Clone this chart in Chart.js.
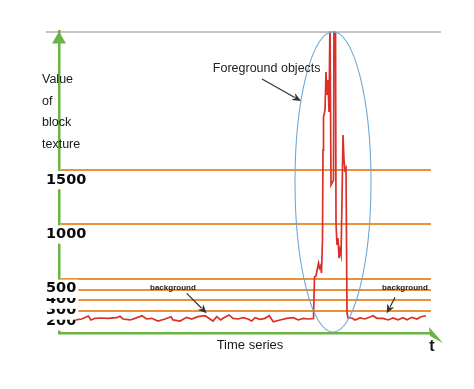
<!DOCTYPE html>
<html>
<head>
<meta charset="utf-8">
<script src="https://cdn.jsdelivr.net/npm/chart.js@4.4.1/dist/chart.umd.min.js"></script>
<style>
  html, body { margin: 0; padding: 0; background: #ffffff; }
  #wrap { width: 474px; height: 389px; position: relative; }
</style>
</head>
<body>
<div id="wrap"><canvas id="c" width="474" height="389"></canvas></div>
<script>
// ---- data ----
const timeSteps = [
  16.7, 22.7, 29.3, 32, 36, 42, 49, 57.7, 61, 64, 71, 76, 83, 87.7, 92.7, 99, 106, 112, 114, 121,
  127.7, 132.7, 139, 146, 151, 154, 157.7, 161.7, 164, 170, 174, 179, 184, 189, 192.7, 196, 201, 206,
  210.3, 214.3, 221, 227.7, 234.3, 239.3, 244.3, 249.3, 254.5,
  255.5, 257, 258.5, 259.5, 260.5, 261.5, 262.5, 263.5, 264, 264.5, 266, 267, 268, 269, 270, 271, 272,
  274.5, 275, 276.5, 277, 278, 279, 280, 281, 282, 283, 284, 285, 286, 287, 288, 289,
  293, 296, 301, 306, 311, 314, 318, 324, 329, 334, 339, 344, 348, 353, 358, 362, 367
];
const textureValues = [
  120, 129, 156, 120, 135, 138, 135, 141, 154, 129, 120, 135, 159, 129, 135, 110, 129, 150, 120, 110,
  144, 129, 150, 159, 129, 110, 150, 120, 135, 166, 135, 129, 141, 129, 110, 141, 126, 135,
  159, 104, 120, 135, 141, 120, 135, 129, 133,
  515, 525, 598, 644, 598, 617, 552, 856, 1684, 1988, 2052, 2402, 2190, 2328, 2034, 2900, 1362,
  1408, 2900, 2900, 1012, 810, 874, 690, 764, 718, 1224, 1822, 1592, 1500, 1518, 184, 138,
  138, 120, 138, 129, 147, 159, 135, 135, 120, 138, 122, 141, 122, 144, 129, 150, 159
];
const yTickValues = [200, 300, 400, 500, 1000, 1500];
const yTitleLines = ['Value', 'of', 'block', 'texture'];
const xTitle = 'Time series';
const xEndLabel = 't';
const timeMax = 372;
const valueMax = 2775;

// annotations (in data units)
const foregroundNote = { text: 'Foreground objects', t: 207.7, v: 2436, from: [203, 2337], to: [242, 2135] };
const backgroundNotes = [
  { text: 'background', t: 113.9, v: 417, from: [127.7, 365], to: [147.7, 181] },
  { text: 'background', t: 346, v: 420, from: [336, 328], to: [327.7, 181] }
];
const ellipseRegion = { t: 274, v: 1391, rt: 38, rv: 1382 };

const GREEN = '#6ab344';
const ORANGE = '#ea913c';
const RED = '#d9302a';

const points = timeSteps.map((t, i) => ({ x: t, y: textureValues[i] }));

function drawArrow(ctx, x1, y1, x2, y2) {
  const ang = Math.atan2(y2 - y1, x2 - x1);
  const hl = 9, hw = 4;
  ctx.save();
  ctx.strokeStyle = '#333';
  ctx.fillStyle = '#333';
  ctx.lineWidth = 1.2;
  ctx.beginPath();
  ctx.moveTo(x1, y1);
  ctx.lineTo(x2 - Math.cos(ang) * hl * 0.8, y2 - Math.sin(ang) * hl * 0.8);
  ctx.stroke();
  ctx.beginPath();
  ctx.moveTo(x2, y2);
  ctx.lineTo(x2 - Math.cos(ang) * hl + Math.sin(ang) * hw, y2 - Math.sin(ang) * hl - Math.cos(ang) * hw);
  ctx.lineTo(x2 - Math.cos(ang) * hl * 0.7, y2 - Math.sin(ang) * hl * 0.7);
  ctx.lineTo(x2 - Math.cos(ang) * hl - Math.sin(ang) * hw, y2 - Math.sin(ang) * hl + Math.cos(ang) * hw);
  ctx.closePath();
  ctx.fill();
  ctx.restore();
}

const decorPlugin = {
  id: 'decor',
  afterDatasetsDraw(chart) {
    const { ctx, chartArea: a, scales: { x, y } } = chart;
    ctx.save();
    // top frame line
    ctx.strokeStyle = '#8a8a8a';
    ctx.lineWidth = 1;
    ctx.beginPath();
    ctx.moveTo(a.left - 13, a.top + 0.5);
    ctx.lineTo(a.right + 10, a.top + 0.5);
    ctx.stroke();

    // y axis arrowhead
    ctx.fillStyle = GREEN;
    ctx.beginPath();
    ctx.moveTo(a.left, a.top);
    ctx.lineTo(a.left - 7, a.top + 12);
    ctx.lineTo(a.left + 7, a.top + 12);
    ctx.closePath();
    ctx.fill();
    // x axis arrowhead
    ctx.beginPath();
    ctx.moveTo(a.right - 2, a.bottom - 6);
    ctx.lineTo(a.right + 12, a.bottom + 10);
    ctx.lineTo(a.right - 1, a.bottom + 3);
    ctx.closePath();
    ctx.fill();

    // ellipse around the foreground objects
    const cx = x.getPixelForValue(ellipseRegion.t);
    const cy = y.getPixelForValue(ellipseRegion.v);
    const rx = x.getPixelForValue(ellipseRegion.t + ellipseRegion.rt) - cx;
    const ry = cy - y.getPixelForValue(ellipseRegion.v + ellipseRegion.rv);
    ctx.strokeStyle = '#6fa8d8';
    ctx.lineWidth = 1.1;
    ctx.beginPath();
    ctx.ellipse(cx, cy, rx, ry, 0, 0, Math.PI * 2);
    ctx.stroke();

    // annotations
    ctx.fillStyle = '#222';
    ctx.textAlign = 'center';
    ctx.textBaseline = 'middle';
    ctx.font = '12.5px "Liberation Sans", Arial, sans-serif';
    ctx.fillText(foregroundNote.text, x.getPixelForValue(foregroundNote.t), y.getPixelForValue(foregroundNote.v));
    drawArrow(ctx,
      x.getPixelForValue(foregroundNote.from[0]), y.getPixelForValue(foregroundNote.from[1]),
      x.getPixelForValue(foregroundNote.to[0]), y.getPixelForValue(foregroundNote.to[1]));
    ctx.font = 'bold 8px "Liberation Sans", Arial, sans-serif';
    backgroundNotes.forEach(n => {
      ctx.fillStyle = '#222';
      ctx.fillText(n.text, x.getPixelForValue(n.t), y.getPixelForValue(n.v));
      drawArrow(ctx,
        x.getPixelForValue(n.from[0]), y.getPixelForValue(n.from[1]),
        x.getPixelForValue(n.to[0]), y.getPixelForValue(n.to[1]));
    });

    // y axis title (stacked words)
    ctx.fillStyle = '#1a1a1a';
    ctx.textAlign = 'left';
    ctx.font = '12.5px "Liberation Sans", Arial, sans-serif';
    yTitleLines.forEach((w, i) => {
      ctx.fillText(w, a.left - 17, a.top + 48 + i * 21.7);
    });
    // x axis title
    ctx.textAlign = 'center';
    ctx.font = '13px "Liberation Sans", Arial, sans-serif';
    ctx.fillText(xTitle, x.getPixelForValue(191), a.bottom + 12);
    ctx.font = 'bold 16px "Liberation Sans", Arial, sans-serif';
    ctx.fillText(xEndLabel, a.right + 1, a.bottom + 14);
    ctx.restore();
  }
};

new Chart(document.getElementById('c'), {
  type: 'line',
  data: {
    datasets: [{
      data: points,
      borderColor: RED,
      borderWidth: 1.7,
      pointRadius: 0,
      tension: 0,
      fill: false
    }]
  },
  options: {
    responsive: false,
    animation: false,
    events: [],
    layout: { padding: { top: 31.5, right: 43, bottom: 0, left: 0 } },
    plugins: { legend: { display: false }, tooltip: { enabled: false }, title: { display: false } },
    scales: {
      x: {
        type: 'linear',
        min: 0,
        max: timeMax,
        grid: { display: false, drawTicks: false },
        ticks: { display: false },
        border: { display: true, color: GREEN, width: 2.5 },
        afterFit(scale) { scale.height = 56; }
      },
      y: {
        type: 'linear',
        min: 0,
        max: valueMax,
        afterBuildTicks(scale) { scale.ticks = yTickValues.map(v => ({ value: v })); },
        afterFit(scale) { scale.width = 59; },
        grid: { color: ORANGE, lineWidth: 2, drawTicks: false },
        border: { display: true, color: GREEN, width: 2.5 },
        ticks: {
          mirror: true,
          padding: -13,
          labelOffset: 10,
          color: '#0a0a0a',
          font: { family: '"DejaVu Sans", sans-serif', size: 14.5, weight: 'bold' },
          showLabelBackdrop: true,
          backdropColor: '#ffffff',
          backdropPadding: { top: 0.3, bottom: 0.6, left: 1, right: 2 },
          callback: (v) => String(v)
        }
      }
    }
  },
  plugins: [decorPlugin]
});
</script>
</body>
</html>
